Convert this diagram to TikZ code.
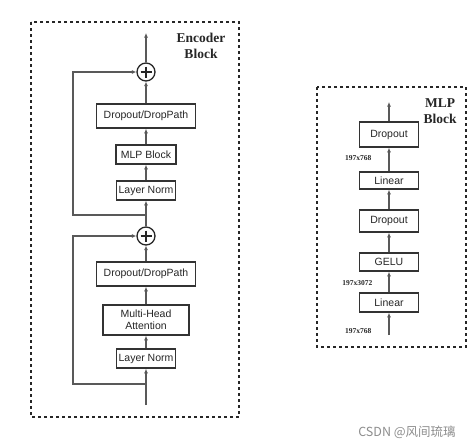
\documentclass[tikz,border=0pt]{standalone}
\usepackage{fontspec}
\setmainfont{Liberation Serif}
\setsansfont{Liberation Sans}
\newfontfamily\cjkfont{Noto Sans CJK SC}
\usetikzlibrary{arrows.meta, calc}

\begin{document}
\begin{tikzpicture}[x=1pt, y=-1pt,
  layer/.style={draw=black!80, line width=1.5pt, fill=white, inner sep=0pt, align=center,
    font=\sffamily\fontsize{10.5}{12}\selectfont, text=black!85, minimum width=59pt, minimum height=19pt},
  flow/.style={-{Latex[length=4.5pt,width=4pt]}, draw=black!65, line width=1.1pt},
  blockframe/.style={draw=black!85, line width=1.5pt, dash pattern=on 3pt off 3pt},
  plusnode/.style={draw=black!85, circle, line width=1.3pt, minimum size=18pt, inner sep=0pt, fill=white},
  title/.style={font=\bfseries\fontsize{13.5}{16}\selectfont, align=center, text=black!85},
  dims/.style={font=\bfseries\fontsize{7.5}{8}\selectfont, anchor=east, text=black!85}
]
\useasboundingbox (0,0) rectangle (474,445);

% Frames
\draw[blockframe] (31,22) rectangle (239,417);
\draw[blockframe] (317,87) rectangle (466,347);
\node[title] (encTitle) at (201,46) {Encoder\\Block};
\node[title] (mlpTitle) at (440,111) {MLP\\Block};

% Encoder block
\pgfmathsetmacro{\xE}{146}
\node[plusnode] (plusA) at (\xE,72) {};
\node[layer, minimum width=99pt, minimum height=24pt] (dropA) at (\xE,116) {Dropout/DropPath};
\node[layer, minimum width=60pt] (mlp) at (\xE,154.5) {MLP Block};
\node[layer] (normA) at (\xE,190.5) {Layer Norm};
\node[plusnode] (plusB) at (\xE,236) {};
\node[layer, minimum width=99pt, minimum height=24pt] (dropB) at (\xE,274) {Dropout/DropPath};
\node[layer, minimum width=86pt, minimum height=30pt] (attn) at (\xE,320) {Multi-Head\\Attention};
\node[layer] (normB) at (\xE,358.5) {Layer Norm};
\foreach \p in {plusA, plusB}{
  \draw[line width=1.2pt, black!85] ($(\p.center)+(-5.5,0)$) -- ($(\p.center)+(5.5,0)$);
  \draw[line width=1.2pt, black!85] ($(\p.center)+(0,-5.5)$) -- ($(\p.center)+(0,5.5)$);
}
\coordinate (encIn) at (\xE,405);
\coordinate (encOut) at (\xE,33);
\coordinate (skipB) at (\xE,384);
\coordinate (skipA) at (\xE,215);

\draw[flow] (encIn) -- (normB);
\draw[flow] (normB) -- (attn);
\draw[flow] (attn) -- (dropB);
\draw[flow] (dropB) -- (plusB);
\draw[flow] (plusB) -- (normA);
\draw[flow] (normA) -- (mlp);
\draw[flow] (mlp) -- (dropA);
\draw[flow] (dropA) -- (plusA);
\draw[flow] (plusA) -- (encOut);
% Residual paths
\draw[flow] (skipB) -- ++(-73,0) |- (plusB);
\draw[flow] (skipA) -- ++(-73,0) |- (plusA);

% MLP block
\pgfmathsetmacro{\xM}{389}
\node[layer, minimum height=25pt] (dropC) at (\xM,134.5) {Dropout};
\node[layer, minimum height=17pt] (linA) at (\xM,180.5) {Linear};
\node[layer, minimum height=22pt] (dropD) at (\xM,221) {Dropout};
\node[layer, minimum height=18pt] (gelu) at (\xM,262) {GELU};
\node[layer] (linB) at (\xM,302.5) {Linear};
\coordinate (mlpIn) at (\xM,335);
\coordinate (mlpOut) at (\xM,102);

\draw[flow] (mlpIn) -- (linB);
\draw[flow] (linB) -- (gelu);
\draw[flow] (gelu) -- (dropD);
\draw[flow] (dropD) -- (linA);
\draw[flow] (linA) -- (dropC);
\draw[flow] (dropC) -- (mlpOut);

\node[dims] (dimA) at (375,158) {197x768};
\node[dims] (dimB) at (376,283) {197x3072};
\node[dims] (dimC) at (375,331) {197x768};

% Watermark
\node[text=black!45, font=\cjkfont\fontsize{12.5}{14}\selectfont] (mark) at (407,432) {CSDN @风间琉璃};
\end{tikzpicture}
\end{document}
